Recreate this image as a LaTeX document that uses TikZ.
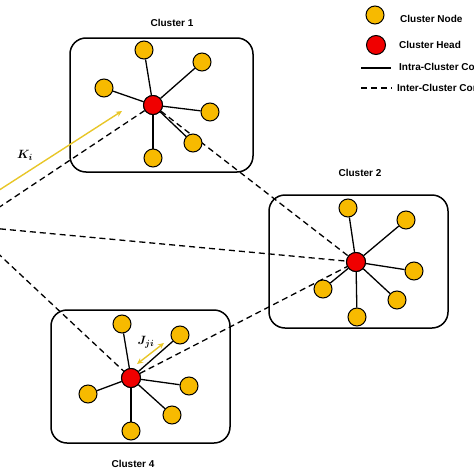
\documentclass[tikz,border=0pt]{standalone}
\usepackage{fontspec}
\setsansfont{Liberation Sans}
\usepackage{bm}
\usetikzlibrary{arrows.meta}
\definecolor{nodeyellow}{RGB}{247,186,0}
\definecolor{headred}{RGB}{240,0,0}
\definecolor{arrowyellow}{RGB}{232,198,40}
\begin{document}
\begin{tikzpicture}[x=1pt,y=-1pt,
  cnode/.style={circle,draw=black,line width=1pt,fill=nodeyellow,minimum size=18pt,inner sep=0pt},
  chead/.style={circle,draw=black,line width=1pt,fill=headred,minimum size=19pt,inner sep=0pt},
  cbox/.style={draw=black,line width=1.5pt,rounded corners=16pt},
  intra/.style={draw=black,line width=1.3pt},
  inter/.style={draw=black,line width=1.3pt,dash pattern=on 6pt off 4pt},
  lbl/.style={font=\sffamily\bfseries\fontsize{10}{12}\selectfont,inner sep=0pt},
  mlbl/.style={font=\fontsize{13}{15}\selectfont,inner sep=0pt},
  yarrow/.style={draw=arrowyellow,line width=1.4pt},
  ytip/.tip={Stealth[length=6pt,width=5.5pt]}
]
\useasboundingbox (0,0) rectangle (474,474);
\clip (0,0) rectangle (474,474);

% boxes
\draw[cbox] (70,38) rectangle (253,172);
\draw[cbox] (269,195) rectangle (448,328);
\draw[cbox] (51,310) rectangle (230,443);

% cluster titles
\node[lbl] (t1) at (172,23) {Cluster 1};
\node[lbl] (t2) at (360,173) {Cluster 2};
\node[lbl] (t4) at (133,464) {Cluster 4};

% heads
\node[chead] (h1) at (153,105) {};
\node[chead] (h2) at (356,262) {};
\node[chead] (h4) at (131,378) {};

% free ends toward the off-picture cluster
\coordinate (e1) at (-20,220);
\coordinate (e2) at (-20,227);
\coordinate (e3) at (-10,246);

% inter-cluster links
\draw[inter] (h1.center) -- (e1);
\draw[inter] (h1.center) -- (h2.center);
\draw[inter] (e2) -- (h2.center);
\draw[inter] (e3) -- (h4.center);
\draw[inter] (h4.center) -- (h2.center);

% cluster 1 nodes
\node[cnode] (n11) at (144,50) {};
\node[cnode] (n12) at (202,62) {};
\node[cnode] (n13) at (104,88) {};
\node[cnode] (n14) at (210,112) {};
\node[cnode] (n15) at (193,143) {};
\node[cnode] (n16) at (153,158) {};
% cluster 2 nodes
\node[cnode] (n21) at (348,208) {};
\node[cnode] (n22) at (406,220) {};
\node[cnode] (n23) at (414,271) {};
\node[cnode] (n24) at (397,300) {};
\node[cnode] (n25) at (357,317) {};
\node[cnode] (n26) at (323,289) {};
% cluster 4 nodes
\node[cnode] (n41) at (122,324) {};
\node[cnode] (n42) at (180,335) {};
\node[cnode] (n43) at (189,386) {};
\node[cnode] (n44) at (172,415) {};
\node[cnode] (n45) at (131,431) {};
\node[cnode] (n46) at (88,394) {};

% intra-cluster links
\foreach \i in {1,...,6} {
  \draw[intra] (h1) -- (n1\i);
  \draw[intra] (h2) -- (n2\i);
  \draw[intra] (h4) -- (n4\i);
}
% redraw heads on top of dashed lines
\node[chead] (h1b) at (153,105) {};
\node[chead] (h2b) at (356,262) {};
\node[chead] (h4b) at (131,378) {};

% K_i arrow
\coordinate (ks) at (-10,196);
\coordinate (ke) at (122,111);
\draw[yarrow,-ytip] (ks) -- (ke);
\node[mlbl] (ki) at (25,155) {$\bm{K_i}$};

% J_ji arrow
\coordinate (js) at (137,364);
\coordinate (je) at (164,343);
\draw[yarrow,ytip-ytip] (js) -- (je);
\node[mlbl] (jji) at (146,342) {$\bm{J_{ji}}$};

% legend
\node[cnode] (lg1) at (375,15) {};
\node[lbl,anchor=west] (lt1) at (400,19) {Cluster Node};
\node[chead] (lg2) at (376,45) {};
\node[lbl,anchor=west] (lt2) at (399,45) {Cluster Head};
\coordinate (la1) at (361,68);
\coordinate (lb1) at (391,68);
\draw[intra] (la1) -- (lb1);
\node[lbl,anchor=west] (lt3) at (399,67) {Intra-Cluster Communication};
\coordinate (la2) at (361,88);
\coordinate (lb2) at (392,88);
\draw[inter] (la2) -- (lb2);
\node[lbl,anchor=west] (lt4) at (397,88) {Inter-Cluster Communication};
\end{tikzpicture}
\end{document}
